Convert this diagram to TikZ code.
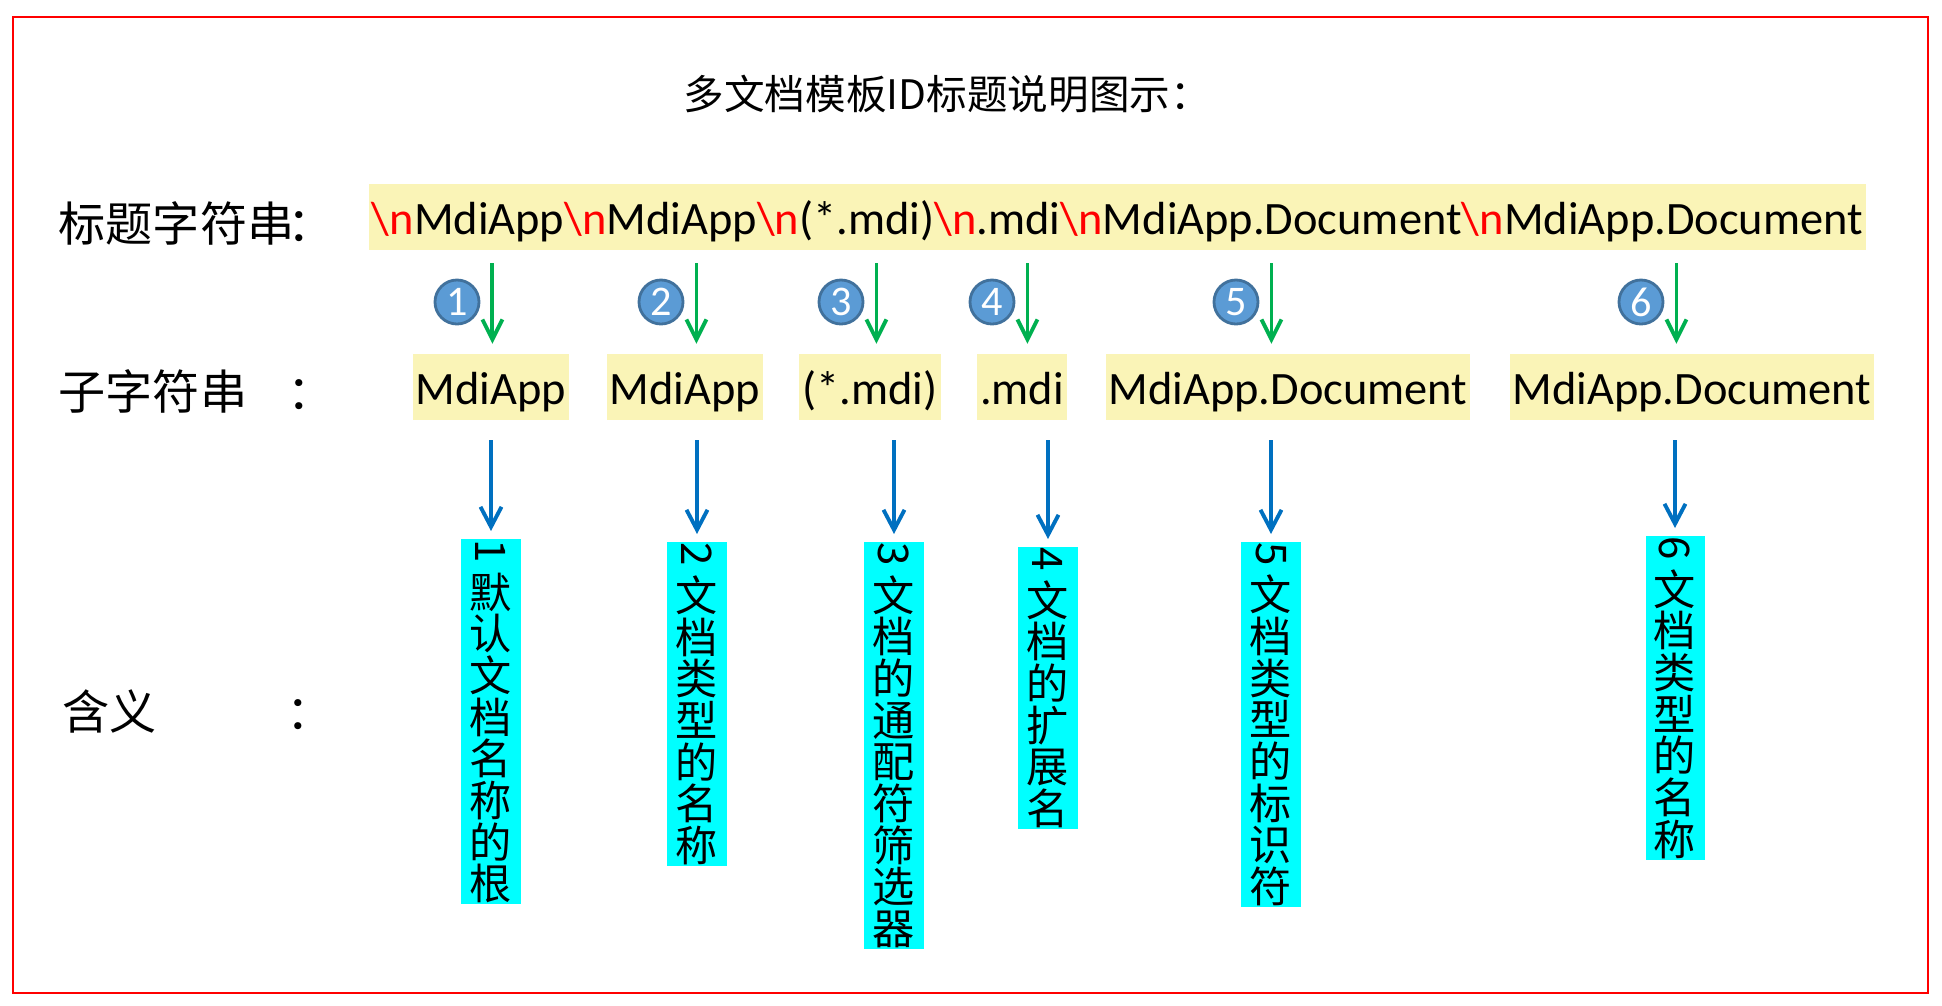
\documentclass[tikz,border=0pt]{standalone}
\usepackage{fontspec}
\setmainfont{Carlito}
\newfontfamily\cjk{Noto Sans CJK SC}
\usetikzlibrary{arrows.meta, positioning}
\definecolor{hlyellow}{HTML}{FAF4B7}
\definecolor{hlcyan}{HTML}{00FFFF}
\definecolor{arrgreen}{HTML}{00B050}
\definecolor{arrblue}{HTML}{0070C0}
\definecolor{numblue}{HTML}{5B9BD5}
\definecolor{numedge}{HTML}{41719C}
\newcommand{\esc}{\textcolor{red}{\textbackslash n}}
\newcommand{\vnum}[1]{\rotatebox[origin=c]{-90}{#1}}

\begin{document}
\begin{tikzpicture}[
    x=0.01cm, y=-0.01cm,
    rowlabel/.style={anchor=west, inner sep=0, font=\cjk\fontsize{13.4pt}{16pt}\selectfont},
    strbox/.style={fill=hlyellow, inner xsep=0.03cm, inner ysep=0, minimum height=0.65cm, text height=0.42cm, text depth=0.08cm, font=\fontsize{13.2pt}{16pt}\selectfont},
    meanbox/.style={fill=hlcyan, anchor=north, align=center, inner xsep=0, inner ysep=0.01cm, minimum width=0.59cm, font=\cjk\fontsize{12pt}{11.85pt}\selectfont},
    numdot/.style={circle, fill=numblue, draw=numedge, line width=0.8pt, minimum size=0.44cm, inner sep=0, text=white, font=\fontsize{12pt}{12pt}\selectfont},
    garr/.style={-{Straight Barb[length=2mm, width=2mm]}, line width=1.1pt, draw=arrgreen},
    barr/.style={-{Straight Barb[length=2mm, width=2.1mm]}, line width=1.1pt, draw=arrblue},
]
\useasboundingbox (0,0) rectangle (1942,1006);
\draw[red, line width=0.6pt] (13,17) rectangle (1928,993);

\node[font=\cjk\fontsize{11.55pt}{14pt}\selectfont, anchor=west, inner sep=0] (title) at (683,94) {多文档模板ID标题说明图示：};

% row labels
\node[rowlabel] (lblstr) at (58,223) {\makebox[4.85em][l]{标题字符串}：};
\node[rowlabel] (lblsub) at (58,391) {\makebox[4.85em][l]{子字符串}：};
\node[rowlabel] (lblmean) at (62,711) {\makebox[4.75em][l]{含义}：};

% full title string
\node[strbox, anchor=west] (str) at (368,217) {\esc MdiApp\esc MdiApp\esc(*.mdi)\esc.mdi\esc MdiApp.Document\esc MdiApp.Document};

% sub strings
\node[strbox] (sub1) at (491,387) {MdiApp};
\node[strbox] (sub2) at (685,387) {MdiApp};
\node[strbox] (sub3) at (870,387) {(*.mdi)};
\node[strbox] (sub4) at (1022,387) {.mdi};
\node[strbox] (sub5) at (1288,387) {MdiApp.Document};
\node[strbox] (sub6) at (1692,387) {MdiApp.Document};

% numbers
\foreach \i/\x in {1/457, 2/661, 3/841, 4/992, 5/1236, 6/1641}
  \node[numdot] (n\i) at (\x,302) {\i};

% meanings
\node[meanbox] (mean1) at (491,538) {\vnum{1}\\默\\认\\文\\档\\名\\称\\的\\根};
\node[meanbox] (mean2) at (697,541) {\vnum{2}\\文\\档\\类\\型\\的\\名\\称};
\node[meanbox] (mean3) at (894,541) {\vnum{3}\\文\\档\\的\\通\\配\\符\\筛\\选\\器};
\node[meanbox] (mean4) at (1048,546) {\vnum{4}\\文\\档\\的\\扩\\展\\名};
\node[meanbox] (mean5) at (1271,541) {\vnum{5}\\文\\档\\类\\型\\的\\标\\识\\符};
\node[meanbox] (mean6) at (1675,535) {\vnum{6}\\文\\档\\类\\型\\的\\名\\称};

\foreach \i in {1,...,6} {
  \draw[garr] ([xshift=1.2mm, yshift=-1.3mm]str.south -| n\i.east) -- ([xshift=1.2mm, yshift=1mm]sub\i.north -| n\i.east);
  \draw[barr] ([yshift=-2mm]sub\i.south -| mean\i.north) -- ([yshift=0.7mm]mean\i.north);
}
\end{tikzpicture}
\end{document}
